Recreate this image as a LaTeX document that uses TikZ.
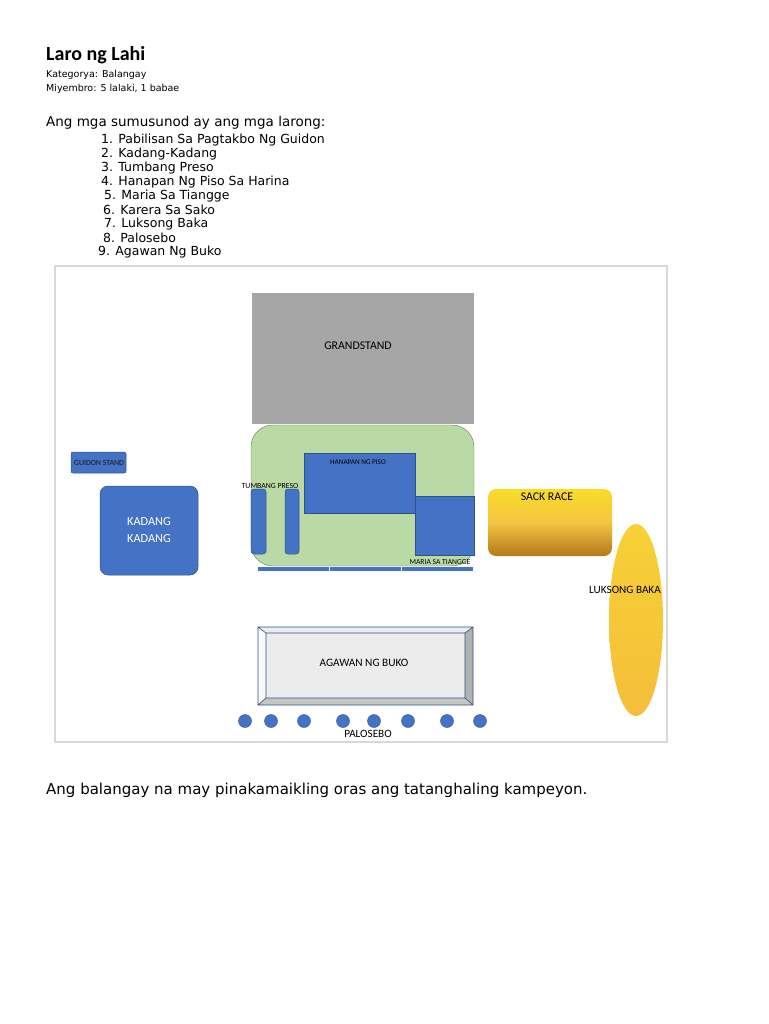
\documentclass[tikz,border=0pt]{standalone}
\usepackage{fontspec}
\setmainfont{DejaVu Sans}
\newfontfamily\carl{Carlito}
\begin{document}
\begin{tikzpicture}[x=1pt,y=-1pt,
 blue/.style={fill=myblue,draw=myblue!70!black,line width=0.5pt},
 lbl/.style={font=\carl\fontsize{9}{10}\selectfont,inner sep=0pt},
 dot/.style={circle,fill=myblue,draw=myblue!70!black,minimum size=13pt,inner sep=0pt},
 li/.style={anchor=west,inner sep=0pt,font=\fontsize{12.5}{14}\selectfont}]
\definecolor{myblue}{HTML}{4472C4}
\definecolor{mygreen}{HTML}{A9D18E}
\definecolor{gold}{HTML}{F4C542}
\useasboundingbox (0,0) rectangle (768,1024);
\fill[white] (0,0) rectangle (768,1024);
\node[anchor=west,inner sep=0pt,font=\carl\bfseries\fontsize{20}{22}\selectfont] (title) at (46,55) {Laro ng Lahi};
\node[anchor=west,inner sep=0pt,font=\fontsize{9.5}{11}\selectfont] (kat) at (46,75) {Kategorya: Balangay};
\node[anchor=west,inner sep=0pt,font=\fontsize{9.5}{11}\selectfont] (miy) at (46,89) {Miyembro: 5 lalaki, 1 babae};
\node[anchor=west,inner sep=0pt,font=\fontsize{13.5}{15}\selectfont] (ang) at (46,123) {Ang mga sumusunod ay ang mga larong:};
\node[li] at (101,140) {1. Pabilisan Sa Pagtakbo Ng Guidon};
\node[li] at (101,154) {2. Kadang-Kadang};
\node[li] at (101,168) {3. Tumbang Preso};
\node[li] at (101,182) {4. Hanapan Ng Piso Sa Harina};
\node[li] at (104,196) {5. Maria Sa Tiangge};
\node[li] at (103,210) {6. Karera Sa Sako};
\node[li] at (104,224) {7. Luksong Baka};
\node[li] at (103,238) {8. Palosebo};
\node[li] at (98,252) {9. Agawan Ng Buko};
% frame
\draw[gray!30,line width=1.5pt] (55,266) rectangle (667,742);
% grandstand
\fill[gray!70] (252,293) rectangle (474,424);
\node[lbl,font=\carl\fontsize{11.8}{13}\selectfont] (gs) at (358,346) {GRANDSTAND};
% green field
\draw[fill=mygreen!80,draw=mygreen!60!black,rounded corners=22pt] (251,425) rectangle (474,566);
\draw[blue] (304,453) rectangle (415,513);
\node[lbl,font=\carl\fontsize{7.2}{8}\selectfont] (hp) at (358,462) {HANAPAN NG PISO};
\draw[blue] (415,496) rectangle (474,555);
\node[lbl,font=\carl\fontsize{7.6}{8}\selectfont] (mt) at (440,562) {MARIA SA TIANGGE};
\draw[blue,rounded corners=3pt] (251,489) rectangle (266,554);
\draw[blue,rounded corners=3pt] (285,489) rectangle (299,554);
\node[lbl,font=\carl\fontsize{7.8}{8}\selectfont] (tp) at (270,486) {TUMBANG PRESO};
\fill[myblue] (258,567) rectangle (473,571);
\draw[white,line width=0.6pt] (329,567)--(329,571) (401,567)--(401,571);
% guidon & kadang
\draw[blue,rounded corners=2pt] (71,452) rectangle (126,473);
\node[lbl,font=\carl\fontsize{7.8}{8}\selectfont,white!10!black] (gd) at (99,463) {GUIDON STAND};
\draw[blue,rounded corners=8pt] (100,486) rectangle (198,575);
\node[lbl,font=\carl\fontsize{12.3}{13}\selectfont,white,align=center] (kd) at (149,530) {KADANG\\[4pt]KADANG};
% sack race
\shade[top color=gold!60!yellow,bottom color=gold!60!black!70!orange,middle color=gold,rounded corners=8pt] (488,489) rectangle (612,556);
\node[lbl,font=\carl\fontsize{11.8}{13}\selectfont] (sr) at (547,497) {SACK RACE};
% luksong baka
\shade[top color=gold!80!yellow,bottom color=gold!90!orange] (636,620) ellipse (27 and 96);
\node[lbl,font=\carl\fontsize{11.2}{12}\selectfont] (lb) at (625,590) {LUKSONG BAKA};
% agawan ng buko
\fill[gray!15] (258,627) rectangle (473,705);
\fill[gray!60] (465,633)--(473,627)--(473,705)--(465,698)--cycle;
\fill[gray!45] (266,698)--(465,698)--(473,705)--(258,705)--cycle;
\fill[gray!5] (258,627)--(266,633)--(266,698)--(258,705)--cycle;
\draw[myblue!70!black,line width=0.6pt] (258,627) rectangle (473,705) (266,633) rectangle (465,698)
 (258,627)--(266,633) (473,627)--(465,633) (473,705)--(465,698) (258,705)--(266,698);
\node[lbl,font=\carl\fontsize{11.3}{12}\selectfont] (ab) at (364,663) {AGAWAN NG BUKO};
\foreach \x [count=\i] in {245,271,304,343,374,408,447,480}
  \node[dot] (d\i) at (\x,721) {};
\node[lbl,font=\carl\fontsize{11.2}{12}\selectfont] (ps) at (368,734) {PALOSEBO};
\node[anchor=west,inner sep=0pt,font=\fontsize{15}{17}\selectfont] (end) at (46,790) {Ang balangay na may pinakamaikling oras ang tatanghaling kampeyon.};
\end{tikzpicture}
\end{document}
